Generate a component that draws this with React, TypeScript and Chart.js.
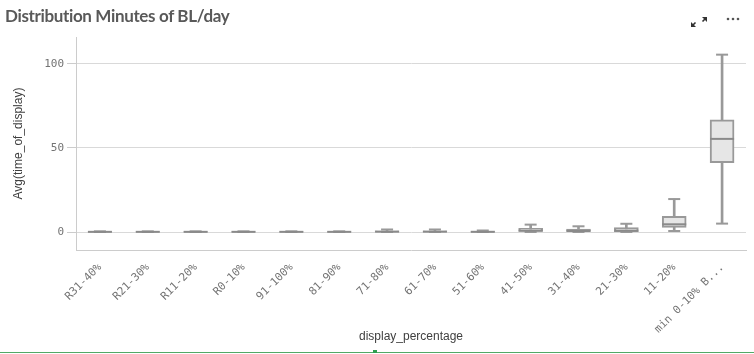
import React, { useEffect, useRef } from "react";
import { Chart, registerables } from "chart.js";

Chart.register(...registerables);

const TITLE = "Distribution Minutes of BL/day";
const X_TITLE = "display_percentage";
const Y_TITLE = "Avg(time_of_display)";

const CATEGORIES = [
  "R31-40%", "R21-30%", "R11-20%", "R0-10%", "91-100%", "81-90%", "71-80%",
  "61-70%", "51-60%", "41-50%", "31-40%", "21-30%", "11-20%", "min 0-10% B...",
];
const MIN_VALUES = [0, 0, 0, 0, 0, 0, 0, 0, 0, 0, 0, 0, 0.6, 5];
const Q1_VALUES = [0, 0, 0, 0, 0, 0, 0, 0, 0, 0, 0, 0.2, 2.8, 41.3];
const MEDIAN_VALUES = [0.1, 0.1, 0.1, 0.1, 0.1, 0.1, 0.2, 0.2, 0.1, 0.8, 0.6, 0.8, 4.6, 55.4];
const Q3_VALUES = [0.3, 0.3, 0.3, 0.3, 0.3, 0.3, 0.7, 0.7, 0.5, 2.2, 1.8, 2.6, 9.3, 66.7];
const MAX_VALUES = [0.4, 0.4, 0.4, 0.4, 0.4, 0.4, 1.5, 1.5, 0.9, 4.4, 3.4, 4.9, 19.6, 105.5];
const Y_TICKS = [0, 50, 100];
const Y_MIN = -10.7;
const Y_MAX = 116;

const BOX_FILL = "#e6e6e6";
const BOX_LINE = "#999999";
const MEDIAN_LINE = "#8a8a8a";
const TICK_FONT = { family: "'DejaVu Sans Mono', monospace", size: 11 };

export default function App() {
  const ref = useRef<HTMLCanvasElement | null>(null);

  useEffect(() => {
    if (!ref.current) return;
    const chart = new Chart(ref.current, {
      type: "bar",
      data: {
        labels: CATEGORIES,
        datasets: [
          {
            type: "bar",
            label: "whisker",
            data: MIN_VALUES.map((v, i) => [v, MAX_VALUES[i]]) as any,
            backgroundColor: BOX_LINE,
            barThickness: 2,
            grouped: false,
            order: 4,
          } as any,
          {
            type: "bar",
            label: "box",
            data: Q1_VALUES.map((v, i) => [v, Q3_VALUES[i]]) as any,
            backgroundColor: BOX_FILL,
            borderColor: BOX_LINE,
            borderWidth: 2,
            borderSkipped: false,
            barThickness: 24,
            grouped: false,
            order: 3,
          } as any,
          {
            type: "line",
            label: "median",
            data: MEDIAN_VALUES,
            showLine: false,
            pointStyle: "line",
            pointRadius: 12,
            pointBorderWidth: 2,
            pointBorderColor: MEDIAN_LINE,
            borderColor: MEDIAN_LINE,
            order: 1,
          } as any,
          {
            type: "line",
            label: "max cap",
            data: MAX_VALUES,
            showLine: false,
            pointStyle: "line",
            pointRadius: 6,
            pointBorderWidth: 2,
            pointBorderColor: BOX_LINE,
            borderColor: BOX_LINE,
            order: 2,
          } as any,
          {
            type: "line",
            label: "min cap",
            data: MIN_VALUES,
            showLine: false,
            pointStyle: "line",
            pointRadius: 6,
            pointBorderWidth: 2,
            pointBorderColor: BOX_LINE,
            borderColor: BOX_LINE,
            order: 2,
          } as any,
        ],
      },
      options: {
        responsive: false,
        animation: false,
        layout: { padding: { top: 37, right: 8, left: 0, bottom: 6 } },
        plugins: {
          legend: { display: false },
          tooltip: { enabled: false },
          title: { display: false },
        },
        scales: {
          x: {
            offset: true,
            grid: { display: false },
            border: { display: true, color: "#cccccc", width: 1 },
            ticks: {
              color: "#737373",
              font: TICK_FONT,
              minRotation: 45,
              maxRotation: 45,
              autoSkip: false,
              padding: 3,
            },
            title: {
              display: true,
              text: X_TITLE,
              color: "#404040",
              font: { family: "'Liberation Sans', Arial, sans-serif", size: 12 },
              padding: { top: 4, bottom: 4 },
            },
            afterFit: (scale: any) => {
              scale.height = 354 - 250 - 6;
              scale.paddingLeft = 0;
              scale.paddingRight = 0;
            },
          },
          y: {
            min: Y_MIN,
            max: Y_MAX,
            afterBuildTicks: (scale: any) => {
              scale.ticks = Y_TICKS.map((v) => ({ value: v }));
            },
            afterFit: (scale: any) => {
              scale.width = 76;
            },
            grid: { color: "#d9d9d9", tickLength: 9, tickColor: "#cccccc" },
            border: { display: true, color: "#cccccc", width: 1 },
            ticks: {
              color: "#737373",
              font: TICK_FONT,
              padding: 3,
            },
            title: {
              display: true,
              text: Y_TITLE,
              color: "#404040",
              font: { family: "'Liberation Sans', Arial, sans-serif", size: 12 },
              padding: { top: 11, bottom: 0 },
            },
          },
        },
      },
    });
    // The point-style datasets (median line and whisker caps) should not reserve extra layout padding.
    [2, 3, 4].forEach((i) => {
      const meta: any = chart.getDatasetMeta(i);
      if (meta && meta.controller) meta.controller.getMaxOverflow = () => 0;
    });
    chart.update();
    return () => chart.destroy();
  }, []);

  return (
    <div
      style={{
        position: "absolute",
        left: 0,
        top: 0,
        width: 754,
        height: 354,
        background: "#ffffff",
        overflow: "hidden",
      }}
    >
      <canvas
        ref={ref}
        width={754}
        height={354}
        style={{ position: "absolute", left: 0, top: 0, width: 754, height: 354 }}
      />
      <div
        style={{
          position: "absolute",
          left: 5,
          top: 5,
          fontFamily: "Lato, 'Open Sans', sans-serif",
          fontWeight: 700,
          fontSize: 17,
          letterSpacing: -0.35,
          color: "#595959",
          whiteSpace: "nowrap",
        }}
      >
        {TITLE}
      </div>
      <svg
        width={18}
        height={14}
        style={{ position: "absolute", left: 690, top: 15 }}
        viewBox="0 0 18 14"
      >
        <path d="M12 2 L17 2 L17 7 Z" fill="#333333" />
        <line x1={16} y1={3} x2={12.5} y2={6.5} stroke="#333333" strokeWidth={1.6} />
        <path d="M1 7 L1 12 L6 12 Z" fill="#333333" />
        <line x1={2} y1={11} x2={5.5} y2={7.5} stroke="#333333" strokeWidth={1.6} />
      </svg>
      <svg width={16} height={4} style={{ position: "absolute", left: 726, top: 17 }}>
        <circle cx={2} cy={2} r={1.3} fill="#555555" />
        <circle cx={7} cy={2} r={1.3} fill="#555555" />
        <circle cx={12} cy={2} r={1.3} fill="#555555" />
      </svg>
      <div style={{ position: "absolute", left: 0, top: 352, width: 754, height: 1, background: "#52a866" }} />
      <div style={{ position: "absolute", left: 373, top: 350, width: 4, height: 3, background: "#2e9e4f" }} />
    </div>
  );
}
